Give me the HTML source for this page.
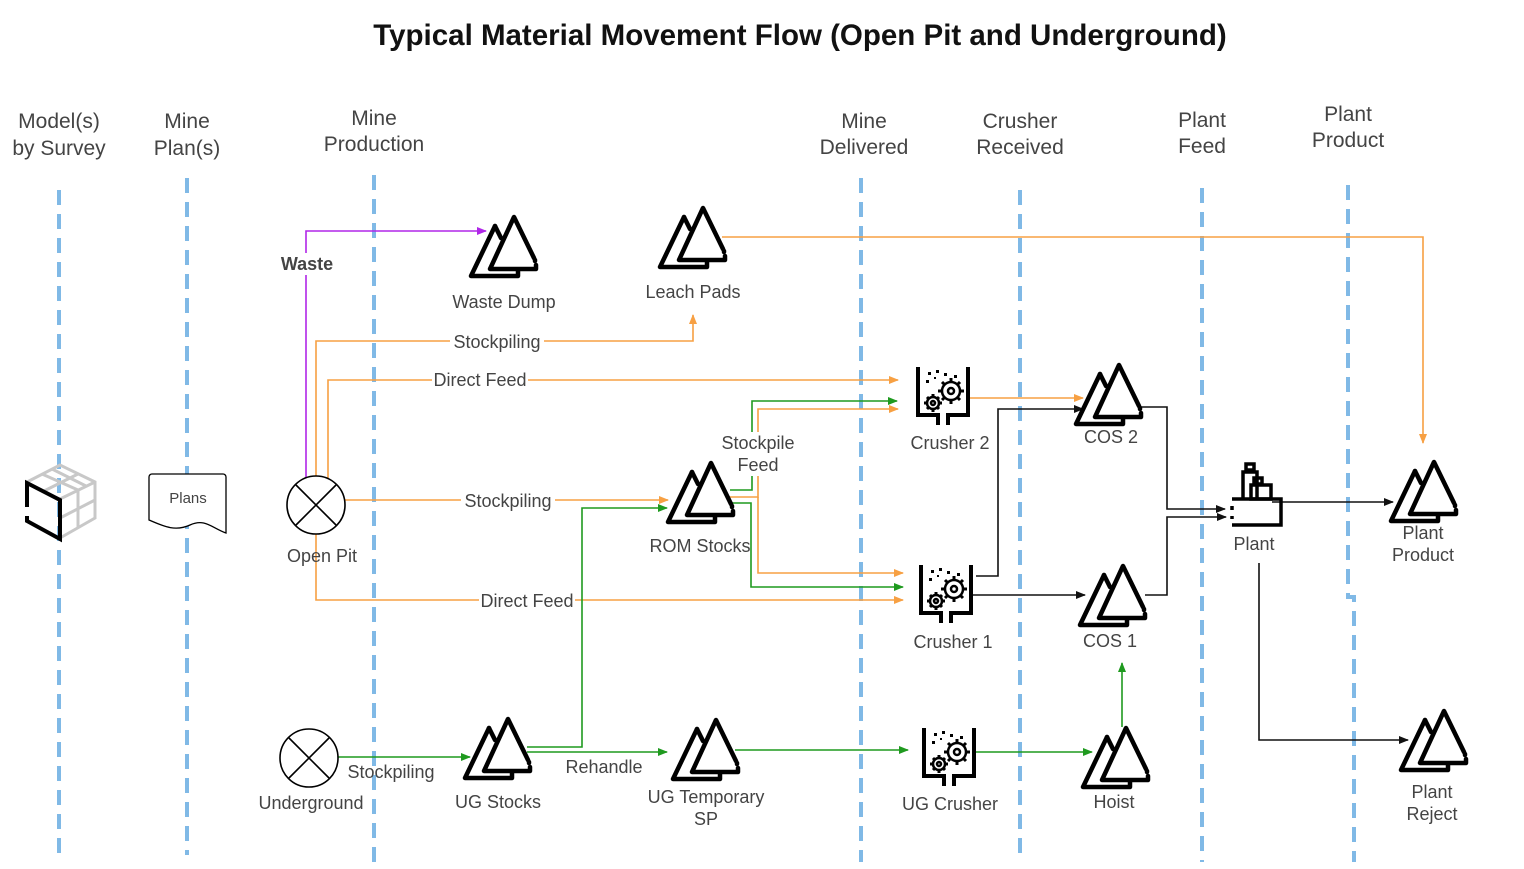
<!DOCTYPE html>
<html><head><meta charset="utf-8"><style>
html,body{margin:0;padding:0;background:#fff;}
svg{display:block;font-family:"Liberation Sans",sans-serif;}
.h{font-size:21px;fill:#444;text-anchor:middle;}
.l{font-size:18px;fill:#444;text-anchor:middle;}
.ln{fill:none;stroke-width:1.6;}
.o{stroke:#f7a043;}
.g{stroke:#1f9a1f;}
.k{stroke:#111;}
.lane{stroke:#80b9e6;stroke-width:4;stroke-dasharray:15 9;fill:none;}
</style></head><body>
<svg width="1524" height="869" viewBox="0 0 1524 869" xmlns="http://www.w3.org/2000/svg">
<defs>
<g id="sp">
 <g fill="none" stroke="#000" stroke-width="4.5" stroke-linejoin="round" stroke-linecap="round">
  <path d="M27,12 L3,62 L50,62 L50,56"/>
  <path d="M27,12 L33,24"/>
  <path d="M66,44 L46,3 L22,55 L68,55 L68,51"/>
  <path d="M67,46 L67,47"/>
 </g>
</g>
<g id="cr">
 <g fill="none" stroke="#000" stroke-width="4">
  <path d="M2,0 L2,48 L22,48 L22,58 M52,0 L52,48 L32,48 L32,58"/>
 </g>
 <g fill="none" stroke="#000" stroke-width="2.5">
  <circle cx="35" cy="24" r="9"/><circle cx="35" cy="24" r="3"/>
  <circle cx="17" cy="36" r="6"/><circle cx="17" cy="36" r="2"/>
 </g>
 <g stroke="#000" stroke-width="3">
  <path d="M35,11v4M35,33v4M22,24h4M44,24h4M26,15l3,3M41,30l3,3M26,33l3,-3M41,18l3,-3"/>
  <path d="M17,27v3M17,42v3M8,36h3M23,36h3M11,30l2,2M21,40l2,2M11,42l2,-2M21,32l2,-2"/>
 </g>
 <g fill="#000"><rect x="12" y="5" width="3" height="3"/><rect x="20" y="3" width="3" height="3"/><rect x="10" y="13" width="3" height="3"/><rect x="18" y="10" width="2" height="2"/><rect x="28" y="6" width="3" height="3"/><rect x="38" y="8" width="3" height="3"/></g>
</g>
<marker id="ao" markerWidth="10" markerHeight="8" refX="9" refY="4" orient="auto" markerUnits="userSpaceOnUse"><path d="M0,0 L10,4 L0,8z" fill="#f7a043"/></marker>
<marker id="ag" markerWidth="10" markerHeight="8" refX="9" refY="4" orient="auto" markerUnits="userSpaceOnUse"><path d="M0,0 L10,4 L0,8z" fill="#1f9a1f"/></marker>
<marker id="ak" markerWidth="10" markerHeight="8" refX="9" refY="4" orient="auto" markerUnits="userSpaceOnUse"><path d="M0,0 L10,4 L0,8z" fill="#111"/></marker>
<marker id="ap" markerWidth="10" markerHeight="8" refX="9" refY="4" orient="auto" markerUnits="userSpaceOnUse"><path d="M0,0 L10,4 L0,8z" fill="#b026e8"/></marker>
</defs>

<text x="800" y="45" font-size="29.5" font-weight="bold" fill="#111" text-anchor="middle">Typical Material Movement Flow (Open Pit and Underground)</text>

<g class="h">
<text x="59" y="128">Model(s)</text><text x="59" y="155">by Survey</text>
<text x="187" y="128">Mine</text><text x="187" y="155">Plan(s)</text>
<text x="374" y="125">Mine</text><text x="374" y="151">Production</text>
<text x="864" y="128">Mine</text><text x="864" y="154">Delivered</text>
<text x="1020" y="128">Crusher</text><text x="1020" y="154">Received</text>
<text x="1202" y="127">Plant</text><text x="1202" y="153">Feed</text>
<text x="1348" y="121">Plant</text><text x="1348" y="147">Product</text>
</g>

<g class="lane">
<path d="M59,190V855"/><path d="M187,178V855"/><path d="M374,175V862"/><path d="M861,178V862"/><path d="M1020,190V862"/><path d="M1202,188V862"/><path d="M1348,185V597h6V862"/>
</g>

<!-- connectors -->
<path class="ln" stroke="#b026e8" d="M306,478V231H486" marker-end="url(#ap)"/>
<path class="ln o" d="M316,476V341H693V315" marker-end="url(#ao)"/>
<path class="ln o" d="M328,480V380H898" marker-end="url(#ao)"/>
<path class="ln o" d="M345,500H668" marker-end="url(#ao)"/>
<path class="ln o" d="M316,534V600H903" marker-end="url(#ao)"/>
<path class="ln o" d="M722,237H1423V443" marker-end="url(#ao)"/>
<path class="ln g" d="M338,757H470" marker-end="url(#ag)"/>
<path class="ln g" d="M527,747H582V508H667" marker-end="url(#ag)"/>
<path class="ln g" d="M527,752H667" marker-end="url(#ag)"/>
<path class="ln g" d="M735,750H908" marker-end="url(#ag)"/>
<path class="ln g" d="M976,752H1092" marker-end="url(#ag)"/>
<path class="ln g" d="M1122,727V663" marker-end="url(#ag)"/>
<path class="ln g" d="M730,490H752V401H897" marker-end="url(#ag)"/>
<path class="ln o" d="M728,497H758V409H898" marker-end="url(#ao)"/>
<path class="ln g" d="M732,503H751V587H903" marker-end="url(#ag)"/>
<path class="ln o" d="M758,497V573H903" marker-end="url(#ao)"/>
<path class="ln o" d="M970,398H1083" marker-end="url(#ao)"/>
<path class="ln k" d="M976,576H998V409H1083" marker-end="url(#ak)"/>
<path class="ln k" d="M973,595H1085" marker-end="url(#ak)"/>
<path class="ln k" d="M1140,407H1167V509H1225" marker-end="url(#ak)"/>
<path class="ln k" d="M1145,595H1167V517H1226" marker-end="url(#ak)"/>
<path class="ln k" d="M1272,502H1393" marker-end="url(#ak)"/>
<path class="ln k" d="M1259,563V740H1408" marker-end="url(#ak)"/>

<!-- connector labels -->
<g class="l">
<rect x="277" y="253" width="60" height="22" fill="#fff"/>
<text x="307" y="270" font-weight="bold" fill="#444">Waste</text>
<rect x="450" y="331" width="94" height="22" fill="#fff"/><text x="497" y="348">Stockpiling</text>
<rect x="432" y="369" width="96" height="22" fill="#fff"/><text x="480" y="386">Direct Feed</text>
<rect x="461" y="489" width="94" height="22" fill="#fff"/><text x="508" y="507">Stockpiling</text>
<rect x="479" y="589" width="96" height="22" fill="#fff"/><text x="527" y="607">Direct Feed</text>
<text x="391" y="778">Stockpiling</text>
<text x="604" y="773">Rehandle</text>
<rect x="720" y="432" width="78" height="44" fill="#fff"/>
<text x="758" y="449">Stockpile</text><text x="758" y="471">Feed</text>
</g>

<!-- stockpiles -->
<use href="#sp" x="468" y="214"/>
<use href="#sp" x="657" y="205"/>
<use href="#sp" x="665" y="460"/>
<use href="#sp" x="462" y="716"/>
<use href="#sp" x="670" y="717"/>
<use href="#sp" x="1073" y="362"/>
<use href="#sp" x="1077" y="563"/>
<use href="#sp" x="1080" y="725"/>
<use href="#sp" x="1388" y="459"/>
<use href="#sp" x="1398" y="708"/>

<!-- crushers -->
<use href="#cr" x="916" y="367"/>
<use href="#cr" x="919" y="565"/>
<use href="#cr" x="922" y="728"/>

<!-- plant -->
<g fill="none" stroke="#000" stroke-width="3.5">
<rect x="1246" y="464" width="8" height="6"/>
<path d="M1243,499V472h14V499"/>
<rect x="1254" y="478" width="8" height="6"/>
<rect x="1251" y="485" width="20" height="14"/>
<path d="M1232,499H1281V525H1232M1232,506V510M1232,516V519"/>
</g>

<!-- circles -->
<g fill="#fff" stroke="#000" stroke-width="1.6">
<circle cx="316" cy="505" r="29"/><path d="M296,485L336,525M336,485L296,525"/>
<circle cx="309" cy="758" r="29"/><path d="M289,738L329,778M329,738L289,778"/>
</g>

<!-- cube -->
<g stroke="#c8c8c8" stroke-width="3" fill="none">
<path d="M27,482 L60,465 L95,482 L95,518 L60,538"/>
<path d="M42,474 L78,490 M52,469 L86,486 M60,499 L95,482 M44,491 L78,474 M60,499V538 M78,490V528 M60,518 L95,500"/>
</g>
<g stroke="#000" stroke-width="4" fill="none"><path d="M27,507V483L60,500V539L27,521V516"/></g>

<!-- plans doc -->
<path d="M152,474H223a3,3 0 0 1 3,3V533C212,528 205,518 190,525C175,532 163,526 149,520V477a3,3 0 0 1 3,-3z" fill="#fff" stroke="#000" stroke-width="1.3"/>
<text x="188" y="503" font-size="15" fill="#444" text-anchor="middle">Plans</text>

<!-- node labels -->
<g class="l">
<text x="504" y="308">Waste Dump</text>
<text x="693" y="298">Leach Pads</text>
<text x="700" y="552">ROM Stocks</text>
<text x="322" y="562">Open Pit</text>
<text x="311" y="809">Underground</text>
<text x="498" y="808">UG Stocks</text>
<text x="706" y="803">UG Temporary</text><text x="706" y="825">SP</text>
<text x="950" y="449">Crusher 2</text>
<text x="953" y="648">Crusher 1</text>
<text x="950" y="810">UG Crusher</text>
<text x="1111" y="443">COS 2</text>
<text x="1110" y="647">COS 1</text>
<text x="1114" y="808">Hoist</text>
<text x="1254" y="550">Plant</text>
<text x="1423" y="539">Plant</text><text x="1423" y="561">Product</text>
<text x="1432" y="798">Plant</text><text x="1432" y="820">Reject</text>
</g>
</svg>
</body></html>
